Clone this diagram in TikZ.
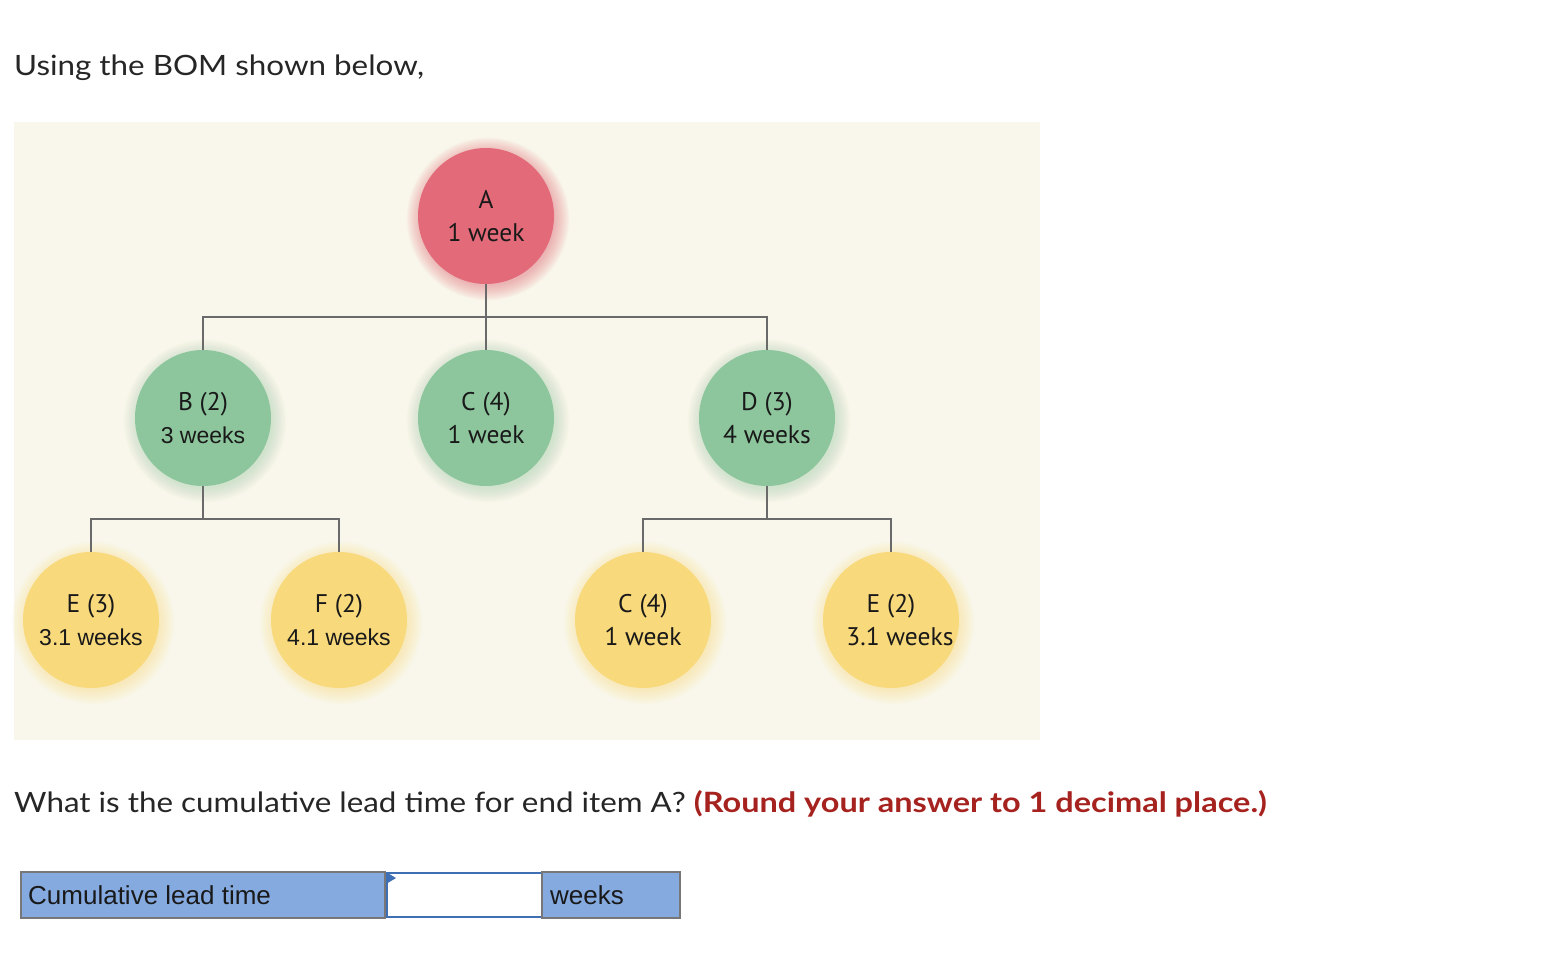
\documentclass[tikz,border=0pt]{standalone}
\usepackage{fontspec}
\setmainfont{Lato}[FakeStretch=1.12, BoldFeatures={FakeStretch=1.16}]
\newfontfamily\bomfont{PT Sans}
\newfontfamily\arialfont{Liberation Sans}
\usetikzlibrary{calc}
\definecolor{bgcream}{HTML}{F9F7EB}
\definecolor{redA}{HTML}{E36A78}
\definecolor{greenB}{HTML}{8DC69D}
\definecolor{yellowE}{HTML}{F8D97B}
\definecolor{cellblue}{HTML}{85AADF}
\definecolor{ansred}{HTML}{A6221E}
\definecolor{inborder}{HTML}{3E6FB5}
\definecolor{linegray}{HTML}{6A6A6A}
\definecolor{boxgray}{HTML}{777777}
\tikzset{
  bomnode/.style={circle, minimum size=136pt, inner sep=0pt, align=center,
    font=\bomfont\fontsize{25.5}{33}\selectfont, text=black!90},
  link/.style={draw=linegray, line width=1.6pt},
  cell/.style={draw=boxgray, line width=1.8pt, fill=cellblue, inner sep=0pt, anchor=north west},
}
\newcommand{\glow}[3]{% center, color, opacity
  \foreach \i in {1,...,14} {
    \fill[#2, opacity=#3] ($(#1)+(2,3)$) circle ({66pt+\i*1.1pt});
  }
}
\begin{document}
\begin{tikzpicture}[x=1pt,y=-1pt]
\useasboundingbox (0,0) rectangle (1542,958);
\fill[white] (0,0) rectangle (1542,958);
% title
\node[anchor=base west, inner sep=0pt, font=\fontsize{28}{32}\selectfont, text=black!85] (title) at (14,75) {Using the BOM shown below,};
% panel
\fill[bgcream] (14,122) rectangle (1040,740);
% glows
\glow{486,216}{redA}{0.04}
\foreach \p in {{203,418},{486,418},{767,418}} {\glow{\p}{greenB}{0.028}}
\foreach \p in {{91,620},{339,620},{643,620},{891,620}} {\glow{\p}{yellowE}{0.032}}
% nodes
\node[bomnode, fill=redA] (A) at (486,216) {A\\1 week};
\node[bomnode, fill=greenB] (B) at (203,418) {B (2)\\{\arialfont\fontsize{23}{33}\selectfont 3 weeks}};
\node[bomnode, fill=greenB] (C1) at (486,418) {C (4)\\1 week};
\node[bomnode, fill=greenB] (D) at (767,418) {D (3)\\4 weeks};
\node[bomnode, fill=yellowE] (E1) at (91,620) {E (3)\\{\arialfont\fontsize{23}{33}\selectfont 3.1 weeks}};
\node[bomnode, fill=yellowE] (F) at (339,620) {F (2)\\{\arialfont\fontsize{23}{33}\selectfont 4.1 weeks}};
\node[bomnode, fill=yellowE] (C2) at (643,620) {C (4)\\1 week};
\node[bomnode, fill=yellowE] (E2) at (891,620) {E (2)\\\hspace*{18pt}3.1 weeks};
% connectors
\coordinate (busA) at (486,317);
\coordinate (busB) at (203,519);
\coordinate (busD) at (767,519);
\draw[link] (A.south) -- (busA);
\draw[link] (busA) -| (B.north);
\draw[link] (busA) -| (D.north);
\draw[link] (busA) -- (C1.north);
\draw[link] (B.south) -- (busB);
\draw[link] (busB) -| (E1.north);
\draw[link] (busB) -| (F.north);
\draw[link] (D.south) -- (busD);
\draw[link] (busD) -| (C2.north);
\draw[link] (busD) -| (E2.north);
% question
\node[anchor=base west, inner sep=0pt, font=\fontsize{28}{32}\selectfont, text=black!85] (q) at (14,812) {What is the cumulative lead time for end item A? \textcolor{ansred}{\bfseries(Round your answer to 1 decimal place.)}};
% answer row
\node[cell, minimum width=364pt, minimum height=46pt] (lab) at (20,871) {};
\node[anchor=west, inner sep=0pt, font=\arialfont\fontsize{26}{30}\selectfont, text=black!90] (labt) at (28,895) {Cumulative lead time};
\node[cell, fill=white, draw=inborder, line width=2.2pt, minimum width=156pt, minimum height=44pt] (inp) at (386,872) {};
\fill[inborder] (inp.north west) -- ++(10,6) -- ++(-10,6) -- cycle;
\node[cell, minimum width=138pt, minimum height=46pt] (wk) at (541,871) {};
\node[anchor=west, inner sep=0pt, font=\arialfont\fontsize{26}{30}\selectfont, text=black!90] (wkt) at (550,895) {weeks};
\end{tikzpicture}
\end{document}
